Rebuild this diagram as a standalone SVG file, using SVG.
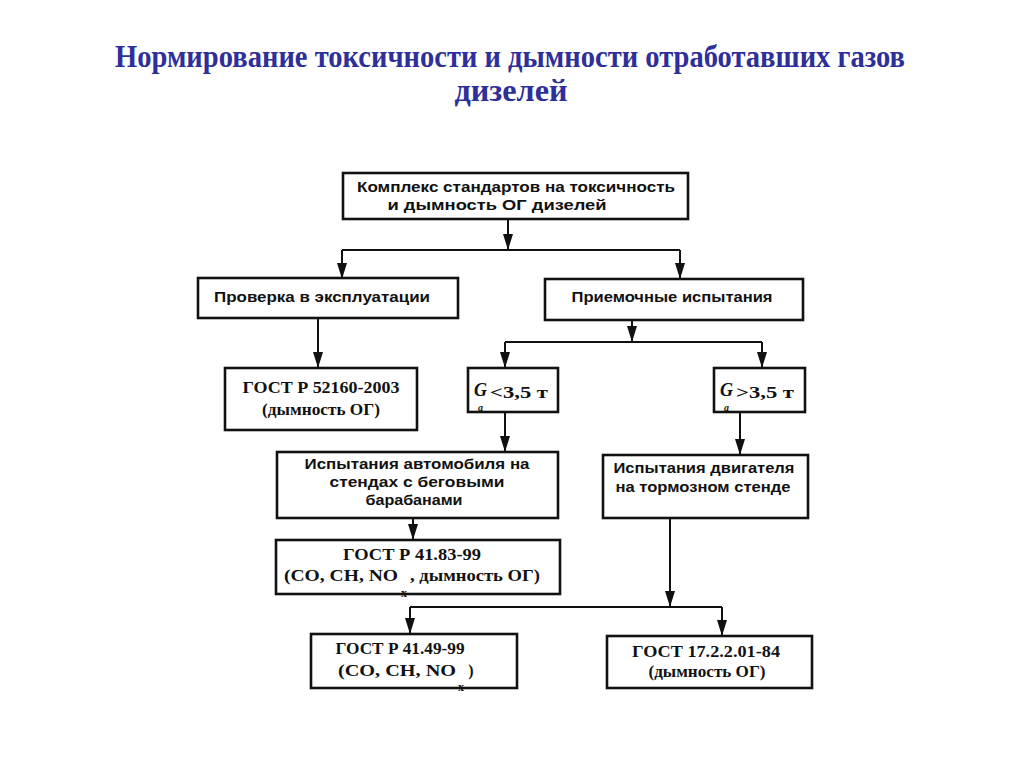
<svg xmlns="http://www.w3.org/2000/svg" width="1024" height="767" viewBox="0 0 1024 767">
<defs>
<marker id="ah" markerUnits="userSpaceOnUse" markerWidth="16" markerHeight="10" viewBox="0 0 16 10" refX="16" refY="5" orient="auto">
<path d="M0,0 L16,5 L0,10 Z" fill="#111"/>
</marker>
<style>
.title{font-family:"Liberation Serif","Times New Roman",serif;font-weight:bold;font-size:32px;fill:#2E2F9A;text-anchor:middle}
.box{fill:#fff;stroke:#111;stroke-width:2.6}
.t{font-family:"Liberation Sans",Arial,sans-serif;font-size:14px;fill:#111;text-anchor:middle;font-weight:bold}
.s{font-family:"Liberation Serif","Times New Roman",serif;font-size:16px;fill:#111;text-anchor:middle;font-weight:bold}
.g{font-family:"Liberation Serif","Times New Roman",serif;font-size:16px;fill:#111;font-weight:bold}
.gi{font-family:"Liberation Serif","Times New Roman",serif;font-size:18px;fill:#111;font-weight:bold;font-style:italic}
.sub{font-family:"Liberation Serif","Times New Roman",serif;font-size:10px;fill:#111;font-weight:bold;font-style:italic}
.x{font-family:"Liberation Serif","Times New Roman",serif;font-size:12px;fill:#111;font-weight:bold;text-anchor:middle}
.c{fill:none;stroke:#111;stroke-width:2}
.arr{marker-end:url(#ah)}
</style>
</defs>
<rect width="1024" height="767" fill="#fff"/>
<g id="title">
<text class="title" x="510" y="67" textLength="790" lengthAdjust="spacingAndGlyphs">Нормирование токсичности и дымности отработавших газов</text>
<text class="title" x="511" y="101" textLength="113" lengthAdjust="spacingAndGlyphs">дизелей</text>
</g>
<g id="connectors">
<line class="c arr" x1="508" y1="219" x2="508" y2="250"/>
<polyline class="c" points="342,250 680,250"/>
<line class="c arr" x1="342" y1="250" x2="342" y2="279"/>
<line class="c arr" x1="680" y1="250" x2="680" y2="279"/>
<line class="c arr" x1="318" y1="318" x2="318" y2="368"/>
<line class="c arr" x1="632" y1="320" x2="632" y2="342"/>
<polyline class="c" points="505,342 762,342"/>
<line class="c arr" x1="505" y1="342" x2="505" y2="368"/>
<line class="c arr" x1="762" y1="342" x2="762" y2="368"/>
<line class="c arr" x1="505" y1="412" x2="505" y2="452"/>
<line class="c arr" x1="740" y1="412" x2="740" y2="455"/>
<line class="c arr" x1="413" y1="518" x2="413" y2="540"/>
<line class="c arr" x1="670" y1="518" x2="670" y2="607"/>
<polyline class="c" points="410,607 722,607"/>
<line class="c arr" x1="410" y1="607" x2="410" y2="634"/>
<line class="c arr" x1="722" y1="607" x2="722" y2="636"/>
</g>
<g id="n1">
<rect class="box" x="343" y="173" width="345" height="46"/>
<text class="t" x="516" y="192" textLength="318" lengthAdjust="spacingAndGlyphs">Комплекс стандартов на токсичность</text>
<text class="t" x="497" y="210" textLength="219" lengthAdjust="spacingAndGlyphs">и дымность ОГ дизелей</text>
</g>
<g id="n2">
<rect class="box" x="198" y="278" width="260" height="40"/>
<text class="t" x="322" y="302" textLength="216" lengthAdjust="spacingAndGlyphs">Проверка в эксплуатации</text>
</g>
<g id="n3">
<rect class="box" x="545" y="279" width="258" height="41"/>
<text class="t" x="672" y="302" textLength="201" lengthAdjust="spacingAndGlyphs">Приемочные испытания</text>
</g>
<g id="n4">
<rect class="box" x="225" y="368" width="192" height="62"/>
<text class="s" x="321" y="393" textLength="157" lengthAdjust="spacingAndGlyphs">ГОСТ Р 52160-2003</text>
<text class="s" x="321" y="415" textLength="118" lengthAdjust="spacingAndGlyphs">(дымность ОГ)</text>
</g>
<g id="n5">
<rect class="box" x="468" y="368" width="90" height="44"/>
<text class="gi" x="474" y="396">G</text>
<text class="sub" x="478" y="411">a</text>
<text class="g" x="490" y="398" textLength="58" lengthAdjust="spacingAndGlyphs">&lt;3,5 т</text>
</g>
<g id="n6">
<rect class="box" x="714" y="368" width="91" height="44"/>
<text class="gi" x="720" y="396">G</text>
<text class="sub" x="724" y="411">a</text>
<text class="g" x="736" y="398" textLength="58" lengthAdjust="spacingAndGlyphs">&gt;3,5 т</text>
</g>
<g id="n7">
<rect class="box" x="277" y="452" width="281" height="66"/>
<text class="t" x="417" y="469" textLength="225" lengthAdjust="spacingAndGlyphs">Испытания автомобиля на</text>
<text class="t" x="417" y="487" textLength="175" lengthAdjust="spacingAndGlyphs">стендах с беговыми</text>
<text class="t" x="414" y="505" textLength="97" lengthAdjust="spacingAndGlyphs">барабанами</text>
</g>
<g id="n8">
<rect class="box" x="603" y="455" width="205" height="63"/>
<text class="t" x="704" y="473" textLength="181" lengthAdjust="spacingAndGlyphs">Испытания двигателя</text>
<text class="t" x="703" y="492" textLength="175" lengthAdjust="spacingAndGlyphs">на тормозном стенде</text>
</g>
<g id="n9">
<rect class="box" x="276" y="540" width="284" height="54"/>
<text class="s" x="412" y="560" textLength="138" lengthAdjust="spacingAndGlyphs">ГОСТ Р 41.83-99</text>
<text class="s" x="341" y="581" textLength="114" lengthAdjust="spacingAndGlyphs">(CO, CH, NO</text>
<text class="x" x="404" y="597">x</text>
<text class="s" x="475" y="581" textLength="130" lengthAdjust="spacingAndGlyphs">, дымность ОГ)</text>
</g>
<g id="n10">
<rect class="box" x="311" y="634" width="206" height="54"/>
<text class="s" x="400" y="654" textLength="129" lengthAdjust="spacingAndGlyphs">ГОСТ Р 41.49-99</text>
<text class="s" x="397" y="676" textLength="118" lengthAdjust="spacingAndGlyphs">(CO, CH, NO</text>
<text class="x" x="461" y="691">x</text>
<text class="s" x="471" y="676">)</text>
</g>
<g id="n11">
<rect class="box" x="607" y="636" width="205" height="52"/>
<text class="s" x="706" y="657" textLength="148" lengthAdjust="spacingAndGlyphs">ГОСТ 17.2.2.01-84</text>
<text class="s" x="707" y="677" textLength="117" lengthAdjust="spacingAndGlyphs">(дымность ОГ)</text>
</g>
</svg>
